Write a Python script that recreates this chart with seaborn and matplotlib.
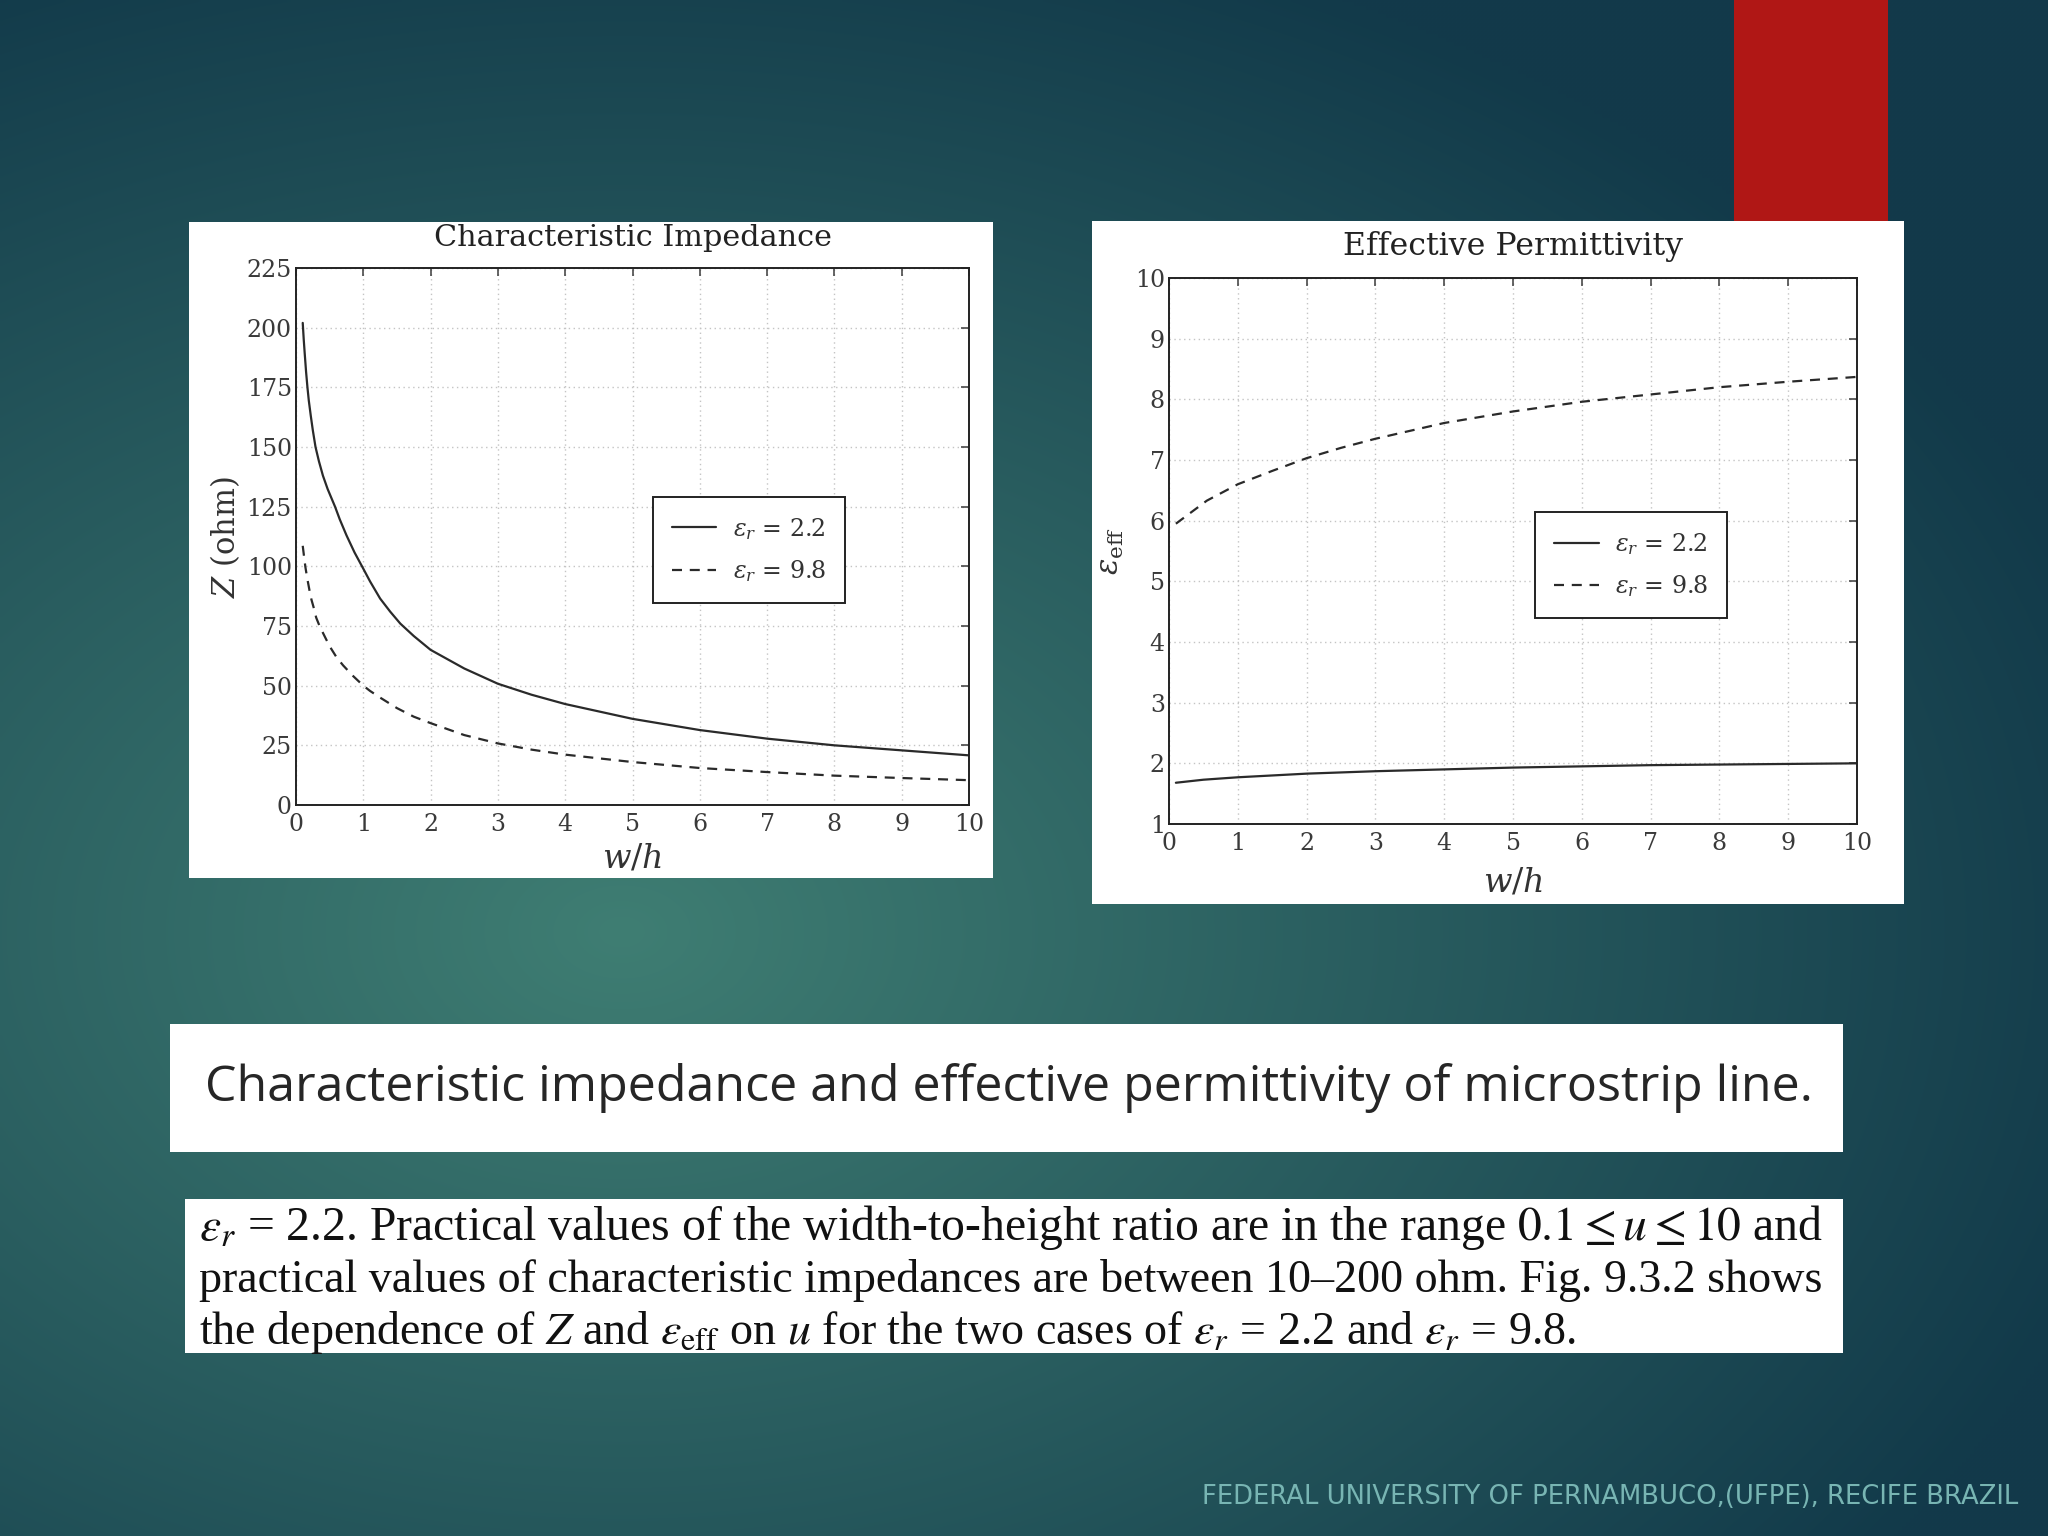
import numpy as np
import pandas as pd
import matplotlib
matplotlib.use('Agg')
import matplotlib.pyplot as plt
from matplotlib.patches import Rectangle
import seaborn as sns

# ---------------- data ----------------
lab22 = r'$\varepsilon_r$ = 2.2'
lab98 = r'$\varepsilon_r$ = 9.8'

wh_z_22 = [0.1, 0.115, 0.13, 0.15, 0.17, 0.19, 0.22, 0.25, 0.29, 0.34, 0.4, 0.47, 0.58, 0.65, 0.75,
           0.87, 1.0, 1.1, 1.25, 1.4, 1.55, 1.75, 2.0, 2.5, 3.0, 3.5, 4.0, 5.0, 6.0, 7.0, 8.0, 9.0, 10.0]
z_22 = [202, 195, 189, 181.4, 175, 169.5, 163, 157, 150, 144.1, 138, 132.4, 125, 119.7, 113,
        105.8, 99, 93.7, 86.5, 81, 76, 70.8, 65, 57.2, 50.8, 46.2, 42.3, 36.1, 31.4, 27.8, 25.0, 22.9, 20.8]

wh_z_98 = [0.1, 0.12, 0.14, 0.17, 0.2, 0.23, 0.27, 0.3, 0.35, 0.42, 0.5, 0.6, 0.7, 0.85, 1.0, 1.1,
           1.25, 1.5, 1.75, 2.0, 2.5, 3.0, 3.5, 4.0, 5.0, 6.0, 7.0, 8.0, 9.0, 10.0]
z_98 = [108.6, 104, 99.6, 94.5, 90, 86, 82, 78.5, 75, 71, 66.5, 62, 58.5, 54, 50, 47.8,
        45, 40.6, 37, 34.3, 29.3, 25.8, 23.2, 21.1, 18.0, 15.5, 13.8, 12.3, 11.3, 10.4]

wh_e_22 = [0.1, 0.5, 1, 2, 3, 4, 5, 6, 7, 8, 9, 10]
e_22 = [1.68, 1.73, 1.77, 1.83, 1.87, 1.90, 1.93, 1.95, 1.97, 1.98, 1.99, 2.00]

wh_e_98 = [0.1, 0.55, 1, 1.5, 2, 2.5, 3, 4, 5, 6, 7, 8, 9, 10]
e_98 = [5.95, 6.33, 6.6, 6.82, 7.03, 7.2, 7.35, 7.61, 7.8, 7.96, 8.08, 8.2, 8.29, 8.37]

x_ticks = list(range(0, 11))
z_ticks = list(range(0, 226, 25))
e_ticks = list(range(1, 11))

title_left = 'Characteristic Impedance'
title_right = 'Effective Permittivity'
caption = 'Characteristic impedance and effective permittivity of microstrip line.'
body_lines = [
    r'$\epsilon_r$ = 2.2. Practical values of the width-to-height ratio are in the range $0.1 \leq u \leq 10$ and',
    'practical values of characteristic impedances are between 10\u2013200 ohm. Fig. 9.3.2 shows',
    r'the dependence of $Z$ and $\epsilon_{\rm eff}$ on $u$ for the two cases of $\epsilon_r$ = 2.2 and $\epsilon_r$ = 9.8.',
]
footer = 'FEDERAL UNIVERSITY OF PERNAMBUCO,(UFPE), RECIFE BRAZIL'

# ---------------- style ----------------
sns.set_theme(style='white')
plt.rcParams['font.family'] = ['DejaVu Serif']
plt.rcParams['mathtext.fontset'] = 'dejavuserif'

W, H = 2048, 1536
fig = plt.figure(figsize=(W / 100, H / 100), dpi=100)


def fx(x):
    return x / W


def fy(y):
    return 1 - y / H


# background gradient + panels
bg = fig.add_axes([0, 0, 1, 1], zorder=-10)
yy, xx = np.mgrid[0:H:4, 0:W:4]
cx, cy = 620, 930
d = np.sqrt(((xx - cx) / 1550.0) ** 2 + ((yy - cy) / 1050.0) ** 2)
d = np.clip(d, 0, 1)
c0 = np.array([0x3f, 0x7e, 0x73]) / 255.0
c1 = np.array([0x12, 0x3a, 0x4a]) / 255.0
img = c0 + (c1 - c0) * d[..., None]
bg.imshow(img, extent=[0, W, H, 0], aspect='auto', interpolation='bilinear')
bg.set_xlim(0, W)
bg.set_ylim(H, 0)
bg.axis('off')
bg.add_patch(Rectangle((1734, 0), 154, 222, color='#b01715', lw=0))
bg.add_patch(Rectangle((189, 222), 804, 656, color='white', lw=0))
bg.add_patch(Rectangle((1092, 221), 812, 683, color='white', lw=0))
bg.add_patch(Rectangle((170, 1024), 1673, 128, color='white', lw=0))
bg.add_patch(Rectangle((185, 1199), 1658, 154, color='white', lw=0))

axL = fig.add_axes([fx(296), fy(805), (969 - 296) / W, (805 - 268) / H])
axR = fig.add_axes([fx(1169), fy(824), (1857 - 1169) / W, (824 - 278) / H])

line_color = '#2a2a2a'
dash_map = {lab22: '', lab98: (4.5, 3.5)}

df_z = pd.DataFrame({
    'w/h': wh_z_22 + wh_z_98,
    'Z': z_22 + z_98,
    'case': [lab22] * len(wh_z_22) + [lab98] * len(wh_z_98),
})
df_e = pd.DataFrame({
    'w/h': wh_e_22 + wh_e_98,
    'eps': e_22 + e_98,
    'case': [lab22] * len(wh_e_22) + [lab98] * len(wh_e_98),
})

sns.lineplot(data=df_z, x='w/h', y='Z', style='case', dashes=dash_map,
             color=line_color, linewidth=1.6, ax=axL, legend=False, estimator=None)
sns.lineplot(data=df_e, x='w/h', y='eps', style='case', dashes=dash_map,
             color=line_color, linewidth=1.6, ax=axR, legend=False, estimator=None)


def style_ax(ax, ylim, yticks):
    ax.set_facecolor('white')
    ax.set_xlim(0, 10)
    ax.set_ylim(*ylim)
    ax.set_xticks(x_ticks)
    ax.set_yticks(yticks)
    ax.set_axisbelow(True)
    ax.grid(True, color='#c4c4c4', lw=1.0, ls=(0, (1, 2.5)))
    ax.tick_params(direction='in', top=True, right=True, length=6, width=1.1,
                   colors='#3a3a3a', labelsize=17)
    ax.tick_params(axis='x', pad=6)
    ax.tick_params(axis='y', pad=3)
    for s in ax.spines.values():
        s.set_visible(True)
        s.set_color('#222222')
        s.set_linewidth(1.4)


style_ax(axL, (0, 225), z_ticks)
style_ax(axR, (1, 10), e_ticks)

for ax, bx, by in [(axL, 0.530, 0.574), (axR, 0.532, 0.571)]:
    leg = ax.legend(ax.lines[:2], [lab22, lab98], loc='upper left', bbox_to_anchor=(bx, by),
                    frameon=True, fancybox=False, edgecolor='#222222', framealpha=1,
                    fontsize=17, handlelength=1.9, borderpad=0.8, labelspacing=0.7,
                    handletextpad=0.7, borderaxespad=0)
    leg.get_frame().set_linewidth(1.4)
    for t in leg.get_texts():
        t.set_color('#333333')

tL = axL.set_title(title_left, fontsize=20, y=1 + 30 / 537, va='center', pad=0, color='#222222')
tR = axR.set_title(title_right, fontsize=20, y=1 + 31 / 546, va='center', pad=0, color='#222222')

axL.set_xlabel('$w/h$', fontsize=24, color='#333333')
axL.xaxis.set_label_coords(0.5, -54 / 537)
axL.xaxis.label.set_va('center')
axL.set_ylabel('$Z$ (ohm)', fontsize=22, color='#333333')
axL.yaxis.set_label_coords(-71 / 673, 0.5)
axL.yaxis.label.set_va('center')

axR.set_xlabel('$w/h$', fontsize=24, color='#333333')
axR.xaxis.set_label_coords(0.5, -58 / 546)
axR.xaxis.label.set_va('center')
axR.set_ylabel(r'$\varepsilon_{\rm eff}$', fontsize=22, color='#333333')
axR.yaxis.set_label_coords(-58 / 688, 0.5)
axR.yaxis.label.set_va('center')

# ---------------- slide texts ----------------
cap = fig.text(fx(205), fy(1088), caption, family=['Open Sans', 'DejaVu Sans'],
               fontsize=32, color='#262626', va='center', ha='left')
body = []
for i, (s, ypix) in enumerate(zip(body_lines, [1228, 1280, 1333])):
    t = fig.text(fx(199), fy(ypix), s, family=['Liberation Serif', 'DejaVu Serif'],
                 fontsize=29, color='#111111', va='center', ha='left')
    t.set_math_fontfamily('stix')
    body.append(t)
foot = fig.text(fx(1202), fy(1497), footer, family=['DejaVu Sans'], fontsize=16,
                color='#78b5b3', va='center', ha='left')

fig.canvas.draw()
r = fig.canvas.get_renderer()


def fit(t, target):
    w = t.get_window_extent(r).width
    t.set_fontsize(t.get_fontsize() * target / w)


fit(cap, 1610)
fit(foot, 818)
fit(tL, 396)
fit(tR, 340)
w2 = body[1].get_window_extent(r).width
scale = 1623 / w2
for t in body:
    t.set_fontsize(t.get_fontsize() * scale)
fit(body[0], 1623)

fig.savefig('out.png', dpi=100)
